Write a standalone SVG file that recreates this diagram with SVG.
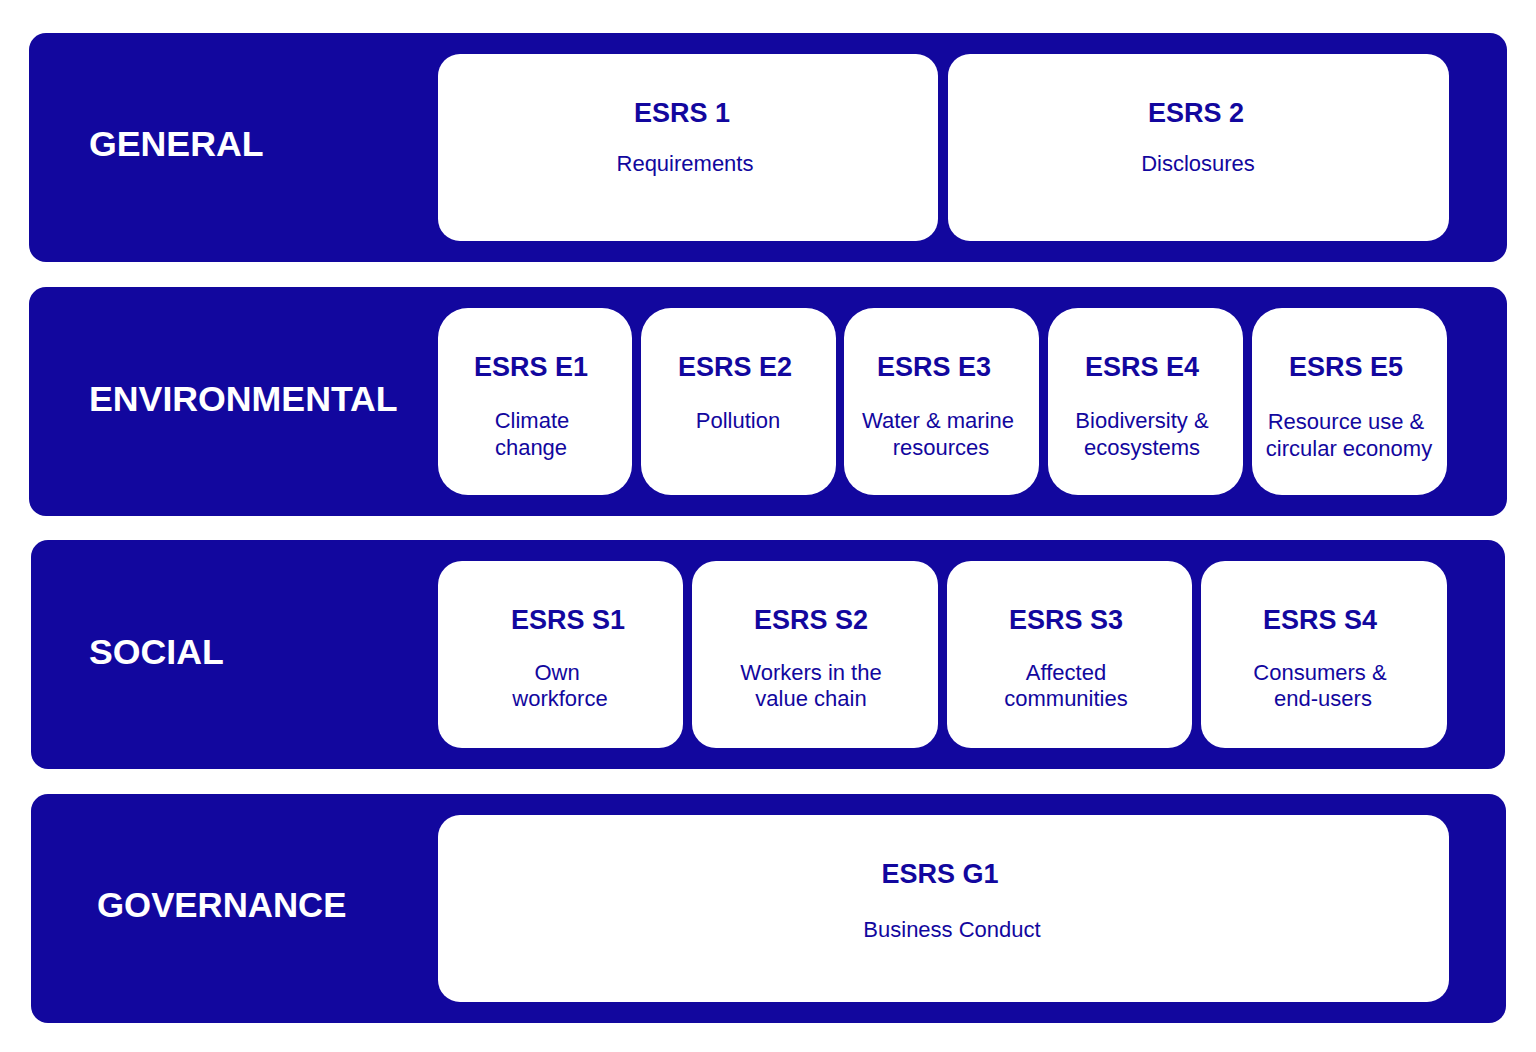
<svg xmlns="http://www.w3.org/2000/svg" width="1536" height="1052" viewBox="0 0 1536 1052">
<style>
.band{fill:#12079e}
.box{fill:#ffffff}
.lab{font-family:"Liberation Sans",Arial,sans-serif;font-weight:bold;font-size:35.7px;fill:#ffffff}
.t{font-family:"Liberation Sans",Arial,sans-serif;font-weight:bold;font-size:27px;fill:#12079e;text-anchor:middle}
.s{font-family:"Liberation Sans",Arial,sans-serif;font-size:22px;fill:#12079e;text-anchor:middle}
</style>
<rect width="1536" height="1052" fill="#ffffff"/>
<g id="general">
<rect class="band" x="29" y="33" width="1478" height="229" rx="17"/>
<text class="lab" x="89" y="156">GENERAL</text>
</g>
<g id="esrs1">
<rect class="box" x="438" y="54" width="500" height="187" rx="22"/>
<text class="t" x="682" y="122">ESRS 1</text>
<text class="s" x="685" y="171">Requirements</text>
</g>
<g id="esrs2">
<rect class="box" x="948" y="54" width="501" height="187" rx="22"/>
<text class="t" x="1196" y="122">ESRS 2</text>
<text class="s" x="1198" y="171">Disclosures</text>
</g>
<g id="environmental">
<rect class="band" x="29" y="287" width="1478" height="229" rx="17"/>
<text class="lab" x="89" y="411">ENVIRONMENTAL</text>
</g>
<g id="e1">
<rect class="box" x="438" y="308" width="194" height="187" rx="30"/>
<text class="t" x="531" y="376">ESRS E1</text>
<text class="s" x="532" y="428">Climate</text>
<text class="s" x="531" y="455">change</text>
</g>
<g id="e2">
<rect class="box" x="641" y="308" width="195" height="187" rx="30"/>
<text class="t" x="735" y="376">ESRS E2</text>
<text class="s" x="738" y="428">Pollution</text>
</g>
<g id="e3">
<rect class="box" x="844" y="308" width="195" height="187" rx="30"/>
<text class="t" x="934" y="376">ESRS E3</text>
<text class="s" x="938" y="428">Water &amp; marine</text>
<text class="s" x="941" y="455">resources</text>
</g>
<g id="e4">
<rect class="box" x="1048" y="308" width="195" height="187" rx="30"/>
<text class="t" x="1142" y="376">ESRS E4</text>
<text class="s" x="1142" y="428">Biodiversity &amp;</text>
<text class="s" x="1142" y="455">ecosystems</text>
</g>
<g id="e5">
<rect class="box" x="1252" y="308" width="195" height="187" rx="30"/>
<text class="t" x="1346" y="376">ESRS E5</text>
<text class="s" x="1346" y="429">Resource use &amp;</text>
<text class="s" x="1349" y="456">circular economy</text>
</g>
<g id="social">
<rect class="band" x="31" y="540" width="1474" height="229" rx="17"/>
<text class="lab" x="89" y="664">SOCIAL</text>
</g>
<g id="s1">
<rect class="box" x="438" y="561" width="245" height="187" rx="24"/>
<text class="t" x="568" y="629">ESRS S1</text>
<text class="s" x="557" y="680">Own</text>
<text class="s" x="560" y="706">workforce</text>
</g>
<g id="s2">
<rect class="box" x="692" y="561" width="246" height="187" rx="24"/>
<text class="t" x="811" y="629">ESRS S2</text>
<text class="s" x="811" y="680">Workers in the</text>
<text class="s" x="811" y="706">value chain</text>
</g>
<g id="s3">
<rect class="box" x="947" y="561" width="245" height="187" rx="24"/>
<text class="t" x="1066" y="629">ESRS S3</text>
<text class="s" x="1066" y="680">Affected</text>
<text class="s" x="1066" y="706">communities</text>
</g>
<g id="s4">
<rect class="box" x="1201" y="561" width="246" height="187" rx="24"/>
<text class="t" x="1320" y="629">ESRS S4</text>
<text class="s" x="1320" y="680">Consumers &amp;</text>
<text class="s" x="1323" y="706">end-users</text>
</g>
<g id="governance">
<rect class="band" x="31" y="794" width="1475" height="229" rx="17"/>
<text class="lab" x="97" y="917" style="font-size:34.8px">GOVERNANCE</text>
</g>
<g id="g1">
<rect class="box" x="438" y="815" width="1011" height="187" rx="22"/>
<text class="t" x="940" y="883">ESRS G1</text>
<text class="s" x="952" y="937">Business Conduct</text>
</g>
<g id="connectors"></g>
</svg>
